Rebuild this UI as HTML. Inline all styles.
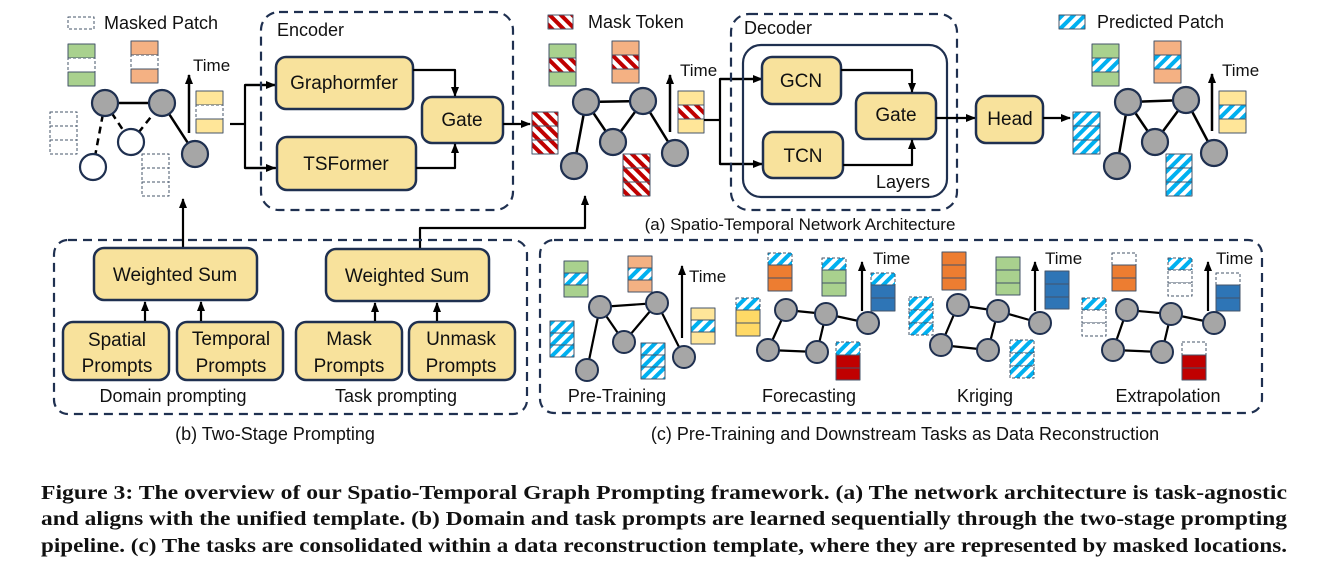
<!DOCTYPE html>
<html><head><meta charset="utf-8"><style>
html,body{margin:0;padding:0;background:#fff;}
svg{display:block;}
.t{font-family:"Liberation Sans",sans-serif;fill:#111;}
.cap{font-family:"Liberation Serif",serif;font-weight:bold;font-size:19.5px;fill:#111;}
</style></head><body>
<svg width="1326" height="577" viewBox="0 0 1326 577" xmlns="http://www.w3.org/2000/svg">
<defs>
<pattern id="rs" patternUnits="userSpaceOnUse" width="8" height="8" patternTransform="rotate(-45)"><rect width="8" height="8" fill="#fff"/><rect width="4" height="8" fill="#c00000"/></pattern>
<pattern id="bs" patternUnits="userSpaceOnUse" width="8" height="8" patternTransform="rotate(45)"><rect width="8" height="8" fill="#fff"/><rect width="4" height="8" fill="#00b0f0"/></pattern>
<marker id="ah" markerWidth="10" markerHeight="10" refX="9" refY="5" orient="auto" markerUnits="userSpaceOnUse"><path d="M0,1 L10,5 L0,9 z" fill="#000"/></marker>
</defs>
<g stroke-linejoin="round">
<rect x="68" y="17" width="26" height="12" fill="#fff" stroke="#44546a" stroke-dasharray="3,2"/>
<text class="t" x="104" y="29" font-size="18">Masked Patch</text>
<rect x="68" y="44" width="27" height="14" fill="#a9d18e" stroke="#44546a"/>
<rect x="68" y="58" width="27" height="14" fill="#fff" stroke="#44546a" stroke-dasharray="3,2"/>
<rect x="68" y="72" width="27" height="14" fill="#a9d18e" stroke="#44546a"/>
<rect x="131" y="41" width="27" height="14" fill="#f4b183" stroke="#44546a"/>
<rect x="131" y="55" width="27" height="14" fill="#fff" stroke="#44546a" stroke-dasharray="3,2"/>
<rect x="131" y="69" width="27" height="14" fill="#f4b183" stroke="#44546a"/>
<g fill="#fff" stroke="#44546a" stroke-dasharray="3,2">
<rect x="50" y="112" width="27" height="14"/><rect x="50" y="126" width="27" height="14"/><rect x="50" y="140" width="27" height="14"/>
<rect x="142" y="154" width="27" height="14"/><rect x="142" y="168" width="27" height="14"/><rect x="142" y="182" width="27" height="14"/>
</g>
<g stroke="#000" stroke-width="2.5">
<line x1="105" y1="103" x2="162" y2="103"/><line x1="162" y1="103" x2="195" y2="154"/>
<line x1="105" y1="103" x2="93" y2="167" stroke-dasharray="7,5"/>
<line x1="105" y1="103" x2="131" y2="142" stroke-dasharray="7,5"/>
<line x1="131" y1="142" x2="162" y2="103" stroke-dasharray="7,5"/>
</g>
<g stroke="#1f3050" stroke-width="2.2">
<circle cx="105" cy="103" r="13" fill="#a6a6a6"/><circle cx="162" cy="103" r="13" fill="#a6a6a6"/>
<circle cx="195" cy="154" r="13" fill="#a6a6a6"/><circle cx="131" cy="142" r="13" fill="#fff"/><circle cx="93" cy="167" r="13" fill="#fff"/>
</g>
<line x1="189" y1="133" x2="189" y2="75" stroke="#000" stroke-width="2.5" marker-end="url(#ah)"/>
<text class="t" x="193" y="71" font-size="17">Time</text>
<rect x="196" y="91" width="27" height="14" fill="#ffe699" stroke="#44546a"/>
<rect x="196" y="105" width="27" height="14" fill="#fff" stroke="#44546a" stroke-dasharray="3,2"/>
<rect x="196" y="119" width="27" height="14" fill="#ffe699" stroke="#44546a"/>
<g stroke="#000" stroke-width="2.2" fill="none">
<line x1="230" y1="124" x2="245" y2="124"/>
<polyline points="276,85 245,85 245,168 276,168"/>
<line x1="245" y1="85" x2="275" y2="85" marker-end="url(#ah)"/>
<line x1="245" y1="168" x2="275" y2="168" marker-end="url(#ah)"/>
</g>
<rect x="261" y="12" width="252" height="198" rx="18" fill="none" stroke="#1f3050" stroke-width="2.2" stroke-dasharray="9,6"/>
<text class="t" x="277" y="36" font-size="18">Encoder</text>
<rect x="276" y="57" width="137" height="52" rx="10" fill="#f8e29c" stroke="#1f3050" stroke-width="2.5"/>
<text class="t" x="344" y="89" font-size="19" text-anchor="middle">Graphormfer</text>
<rect x="277" y="137" width="139" height="53" rx="10" fill="#f8e29c" stroke="#1f3050" stroke-width="2.5"/>
<text class="t" x="346" y="170" font-size="19" text-anchor="middle">TSFormer</text>
<rect x="422" y="97" width="81" height="46" rx="10" fill="#f8e29c" stroke="#1f3050" stroke-width="2.5"/>
<text class="t" x="462" y="126" font-size="19" text-anchor="middle">Gate</text>
<g stroke="#000" stroke-width="2.2" fill="none">
<polyline points="413,70 455,70 455,96" marker-end="url(#ah)"/>
<polyline points="416,168 455,168 455,144" marker-end="url(#ah)"/>
<line x1="503" y1="124" x2="530" y2="124" marker-end="url(#ah)"/>
</g>
<g stroke="#44546a"><rect x="532" y="112" width="26" height="14" fill="url(#rs)"/><rect x="532" y="126" width="26" height="14" fill="url(#rs)"/><rect x="532" y="140" width="26" height="14" fill="url(#rs)"/></g>
<rect x="548" y="15" width="25" height="14" fill="url(#rs)" stroke="#44546a"/>
<text class="t" x="588" y="28" font-size="18">Mask Token</text>
<rect x="549" y="44" width="27" height="14" fill="#a9d18e" stroke="#44546a"/>
<rect x="549" y="58" width="27" height="14" fill="url(#rs)" stroke="#44546a"/>
<rect x="549" y="72" width="27" height="14" fill="#a9d18e" stroke="#44546a"/>
<rect x="612" y="41" width="27" height="14" fill="#f4b183" stroke="#44546a"/>
<rect x="612" y="55" width="27" height="14" fill="url(#rs)" stroke="#44546a"/>
<rect x="612" y="69" width="27" height="14" fill="#f4b183" stroke="#44546a"/>
<g stroke="#44546a"><rect x="623" y="154" width="27" height="14" fill="url(#rs)"/><rect x="623" y="168" width="27" height="14" fill="url(#rs)"/><rect x="623" y="182" width="27" height="14" fill="url(#rs)"/></g>
<g stroke="#000" stroke-width="2.5">
<line x1="586" y1="102" x2="643" y2="101"/><line x1="586" y1="102" x2="613" y2="142"/><line x1="613" y1="142" x2="643" y2="101"/><line x1="586" y1="102" x2="574" y2="166"/><line x1="643" y1="101" x2="675" y2="153"/>
</g>
<g stroke="#1f3050" stroke-width="2.2" fill="#a6a6a6">
<circle cx="586" cy="102" r="13"/><circle cx="643" cy="101" r="13"/><circle cx="613" cy="142" r="13"/><circle cx="574" cy="166" r="13"/><circle cx="675" cy="153" r="13"/>
</g>
<line x1="670" y1="132" x2="670" y2="75" stroke="#000" stroke-width="2.5" marker-end="url(#ah)"/>
<text class="t" x="680" y="76" font-size="17">Time</text>
<rect x="678" y="91" width="26" height="14" fill="#ffe699" stroke="#44546a"/>
<rect x="678" y="105" width="26" height="14" fill="url(#rs)" stroke="#44546a"/>
<rect x="678" y="119" width="26" height="14" fill="#ffe699" stroke="#44546a"/>
<g stroke="#000" stroke-width="2.2" fill="none">
<polyline points="704,120 720,120"/>
<polyline points="762,79 720,79 720,164 762,164"/>
<line x1="720" y1="79" x2="762" y2="79" marker-end="url(#ah)"/>
<line x1="720" y1="164" x2="762" y2="164" marker-end="url(#ah)"/>
</g>
<rect x="731" y="14" width="226" height="196" rx="18" fill="none" stroke="#1f3050" stroke-width="2.2" stroke-dasharray="9,6"/>
<text class="t" x="744" y="34" font-size="18">Decoder</text>
<rect x="743" y="45" width="204" height="152" rx="18" fill="none" stroke="#1f3050" stroke-width="2.2"/>
<text class="t" x="876" y="188" font-size="18">Layers</text>
<rect x="762" y="57" width="79" height="47" rx="10" fill="#f8e29c" stroke="#1f3050" stroke-width="2.5"/>
<text class="t" x="801" y="87" font-size="19" text-anchor="middle">GCN</text>
<rect x="763" y="132" width="80" height="46" rx="10" fill="#f8e29c" stroke="#1f3050" stroke-width="2.5"/>
<text class="t" x="803" y="162" font-size="19" text-anchor="middle">TCN</text>
<rect x="856" y="93" width="80" height="46" rx="10" fill="#f8e29c" stroke="#1f3050" stroke-width="2.5"/>
<text class="t" x="896" y="121" font-size="19" text-anchor="middle">Gate</text>
<g stroke="#000" stroke-width="2.2" fill="none">
<polyline points="841,70 912,70 912,92" marker-end="url(#ah)"/>
<polyline points="843,165 912,165 912,140" marker-end="url(#ah)"/>
<line x1="936" y1="118" x2="975" y2="118" marker-end="url(#ah)"/>
</g>
<rect x="976" y="96" width="67" height="47" rx="10" fill="#f8e29c" stroke="#1f3050" stroke-width="2.5"/>
<text class="t" x="1010" y="125" font-size="19" text-anchor="middle">Head</text>
<line x1="1043" y1="118" x2="1070" y2="118" stroke="#000" stroke-width="2.2" marker-end="url(#ah)"/>
<g stroke="#44546a"><rect x="1073" y="112" width="27" height="14" fill="url(#bs)"/><rect x="1073" y="126" width="27" height="14" fill="url(#bs)"/><rect x="1073" y="140" width="27" height="14" fill="url(#bs)"/></g>
<rect x="1059" y="15" width="26" height="14" fill="url(#bs)" stroke="#44546a"/>
<text class="t" x="1097" y="28" font-size="18">Predicted Patch</text>
<rect x="1092" y="44" width="27" height="14" fill="#a9d18e" stroke="#44546a"/>
<rect x="1092" y="58" width="27" height="14" fill="url(#bs)" stroke="#44546a"/>
<rect x="1092" y="72" width="27" height="14" fill="#a9d18e" stroke="#44546a"/>
<rect x="1154" y="41" width="27" height="14" fill="#f4b183" stroke="#44546a"/>
<rect x="1154" y="55" width="27" height="14" fill="url(#bs)" stroke="#44546a"/>
<rect x="1154" y="69" width="27" height="14" fill="#f4b183" stroke="#44546a"/>
<g stroke="#44546a"><rect x="1166" y="154" width="26" height="14" fill="url(#bs)"/><rect x="1166" y="168" width="26" height="14" fill="url(#bs)"/><rect x="1166" y="182" width="26" height="14" fill="url(#bs)"/></g>
<g stroke="#000" stroke-width="2.5">
<line x1="1128" y1="102" x2="1186" y2="100"/><line x1="1128" y1="102" x2="1155" y2="142"/><line x1="1155" y1="142" x2="1186" y2="100"/><line x1="1128" y1="102" x2="1117" y2="166"/><line x1="1186" y1="100" x2="1214" y2="153"/>
</g>
<g stroke="#1f3050" stroke-width="2.2" fill="#a6a6a6">
<circle cx="1128" cy="102" r="13"/><circle cx="1186" cy="100" r="13"/><circle cx="1155" cy="142" r="13"/><circle cx="1117" cy="166" r="13"/><circle cx="1214" cy="153" r="13"/>
</g>
<line x1="1212" y1="131" x2="1212" y2="74" stroke="#000" stroke-width="2.5" marker-end="url(#ah)"/>
<text class="t" x="1222" y="76" font-size="17">Time</text>
<rect x="1219" y="91" width="27" height="14" fill="#ffe699" stroke="#44546a"/>
<rect x="1219" y="105" width="27" height="14" fill="url(#bs)" stroke="#44546a"/>
<rect x="1219" y="119" width="27" height="14" fill="#ffe699" stroke="#44546a"/>
<text class="t" x="800" y="230" font-size="17" text-anchor="middle">(a) Spatio-Temporal Network Architecture</text>
<line x1="183" y1="248" x2="183" y2="199" stroke="#000" stroke-width="2.2" marker-end="url(#ah)"/>
<polyline points="420,249 420,228 585,228 585,196" fill="none" stroke="#000" stroke-width="2.2" marker-end="url(#ah)"/>

<rect x="54" y="240" width="473" height="174" rx="14" fill="none" stroke="#1f3050" stroke-width="2.2" stroke-dasharray="9,6"/>
<g fill="#f8e29c" stroke="#1f3050" stroke-width="2.5">
<rect x="94" y="248" width="163" height="52" rx="10"/><rect x="326" y="249" width="163" height="52" rx="10"/>
<rect x="63" y="322" width="106" height="58" rx="10"/><rect x="177" y="322" width="106" height="58" rx="10"/>
<rect x="296" y="322" width="106" height="58" rx="10"/><rect x="409" y="322" width="106" height="58" rx="10"/>
</g>
<text class="t" x="175" y="281" font-size="19" text-anchor="middle">Weighted Sum</text>
<text class="t" x="407" y="282" font-size="19" text-anchor="middle">Weighted Sum</text>
<g class="t" font-size="19" text-anchor="middle">
<text x="117" y="346">Spatial</text><text x="117" y="372">Prompts</text>
<text x="231" y="345">Temporal</text><text x="231" y="372">Prompts</text>
<text x="349" y="345">Mask</text><text x="349" y="372">Prompts</text>
<text x="461" y="345">Unmask</text><text x="461" y="372">Prompts</text>
</g>
<g stroke="#000" stroke-width="2.2">
<line x1="145" y1="321" x2="145" y2="302" marker-end="url(#ah)"/><line x1="201" y1="321" x2="201" y2="302" marker-end="url(#ah)"/>
<line x1="375" y1="321" x2="375" y2="303" marker-end="url(#ah)"/><line x1="437" y1="321" x2="437" y2="303" marker-end="url(#ah)"/>
</g>
<text class="t" x="173" y="402" font-size="18" text-anchor="middle">Domain prompting</text>
<text class="t" x="396" y="402" font-size="18" text-anchor="middle">Task prompting</text>
<text class="t" x="275" y="440" font-size="18" text-anchor="middle">(b) Two-Stage Prompting</text>

<rect x="540" y="240" width="722" height="173" rx="14" fill="none" stroke="#1f3050" stroke-width="2.2" stroke-dasharray="9,6"/>
<g stroke="#44546a">
<rect x="564" y="261" width="24" height="12" fill="#a9d18e"/><rect x="564" y="273" width="24" height="12" fill="url(#bs)"/><rect x="564" y="285" width="24" height="12" fill="#a9d18e"/>
<rect x="628" y="256" width="24" height="12" fill="#f4b183"/><rect x="628" y="268" width="24" height="12" fill="url(#bs)"/><rect x="628" y="280" width="24" height="12" fill="#f4b183"/>
<rect x="550" y="321" width="24" height="12" fill="url(#bs)"/><rect x="550" y="333" width="24" height="12" fill="url(#bs)"/><rect x="550" y="345" width="24" height="12" fill="url(#bs)"/>
<rect x="641" y="343" width="24" height="12" fill="url(#bs)"/><rect x="641" y="355" width="24" height="12" fill="url(#bs)"/><rect x="641" y="367" width="24" height="12" fill="url(#bs)"/>
<rect x="691" y="308" width="24" height="12" fill="#ffe699"/><rect x="691" y="320" width="24" height="12" fill="url(#bs)"/><rect x="691" y="332" width="24" height="12" fill="#ffe699"/>
</g>
<g stroke="#000" stroke-width="2.2">
<line x1="600" y1="307" x2="657" y2="303"/><line x1="600" y1="307" x2="624" y2="342"/><line x1="624" y1="342" x2="657" y2="303"/><line x1="600" y1="307" x2="587" y2="370"/><line x1="657" y1="303" x2="684" y2="357"/>
</g>
<g stroke="#1f3050" stroke-width="2" fill="#a6a6a6">
<circle cx="600" cy="307" r="11"/><circle cx="657" cy="303" r="11"/><circle cx="624" cy="342" r="11"/><circle cx="587" cy="370" r="11"/><circle cx="684" cy="357" r="11"/>
</g>
<line x1="682" y1="338" x2="682" y2="266" stroke="#000" stroke-width="2.2" marker-end="url(#ah)"/>
<text class="t" x="689" y="282" font-size="17">Time</text>
<g stroke="#44546a">
<rect x="768" y="253" width="24" height="12" fill="url(#bs)" stroke-dasharray="3,2"/><rect x="768" y="265" width="24" height="13" fill="#ed7d31"/><rect x="768" y="278" width="24" height="13" fill="#ed7d31"/>
<rect x="822" y="258" width="24" height="12" fill="url(#bs)" stroke-dasharray="3,2"/><rect x="822" y="270" width="24" height="13" fill="#a9d18e"/><rect x="822" y="283" width="24" height="13" fill="#a9d18e"/>
<rect x="871" y="273" width="24" height="12" fill="url(#bs)" stroke-dasharray="3,2"/><rect x="871" y="285" width="24" height="13" fill="#2e75b6"/><rect x="871" y="298" width="24" height="13" fill="#2e75b6"/>
<rect x="736" y="298" width="24" height="12" fill="url(#bs)" stroke-dasharray="3,2"/><rect x="736" y="310" width="24" height="13" fill="#ffd966"/><rect x="736" y="323" width="24" height="13" fill="#ffd966"/>
<rect x="836" y="342" width="24" height="13" fill="url(#bs)" stroke-dasharray="3,2"/><rect x="836" y="355" width="24" height="13" fill="#c00000"/><rect x="836" y="368" width="24" height="12" fill="#c00000"/>
</g>
<g stroke="#000" stroke-width="2.2">
<line x1="786" y1="310" x2="826" y2="314"/><line x1="826" y1="314" x2="868" y2="323"/><line x1="786" y1="310" x2="768" y2="350"/><line x1="768" y1="350" x2="817" y2="352"/><line x1="817" y1="352" x2="826" y2="314"/>
</g>
<g stroke="#1f3050" stroke-width="2" fill="#a6a6a6">
<circle cx="786" cy="310" r="11"/><circle cx="826" cy="314" r="11"/><circle cx="868" cy="323" r="11"/><circle cx="768" cy="350" r="11"/><circle cx="817" cy="352" r="11"/>
</g>
<line x1="862" y1="311" x2="862" y2="262" stroke="#000" stroke-width="2.2" marker-end="url(#ah)"/>
<text class="t" x="873" y="264" font-size="17">Time</text>
<g stroke="#44546a">
<rect x="942" y="252" width="24" height="13" fill="#ed7d31"/><rect x="942" y="265" width="24" height="13" fill="#ed7d31"/><rect x="942" y="278" width="24" height="12" fill="#ed7d31"/>
<rect x="996" y="257" width="24" height="13" fill="#a9d18e"/><rect x="996" y="270" width="24" height="13" fill="#a9d18e"/><rect x="996" y="283" width="24" height="12" fill="#a9d18e"/>
<rect x="1045" y="271" width="24" height="13" fill="#2e75b6"/><rect x="1045" y="284" width="24" height="13" fill="#2e75b6"/><rect x="1045" y="297" width="24" height="12" fill="#2e75b6"/>
<g stroke-dasharray="3,2">
<rect x="909" y="297" width="24" height="13" fill="url(#bs)"/><rect x="909" y="310" width="24" height="13" fill="url(#bs)"/><rect x="909" y="323" width="24" height="12" fill="url(#bs)"/>
<rect x="1010" y="340" width="24" height="13" fill="url(#bs)"/><rect x="1010" y="353" width="24" height="13" fill="url(#bs)"/><rect x="1010" y="366" width="24" height="12" fill="url(#bs)"/>
</g>
</g>
<g stroke="#000" stroke-width="2.2">
<line x1="958" y1="305" x2="998" y2="311"/><line x1="998" y1="311" x2="1040" y2="323"/><line x1="958" y1="305" x2="941" y2="345"/><line x1="941" y1="345" x2="988" y2="350"/><line x1="988" y1="350" x2="998" y2="311"/>
</g>
<g stroke="#1f3050" stroke-width="2" fill="#a6a6a6">
<circle cx="958" cy="305" r="11"/><circle cx="998" cy="311" r="11"/><circle cx="1040" cy="323" r="11"/><circle cx="941" cy="345" r="11"/><circle cx="988" cy="350" r="11"/>
</g>
<line x1="1035" y1="311" x2="1035" y2="262" stroke="#000" stroke-width="2.2" marker-end="url(#ah)"/>
<text class="t" x="1045" y="264" font-size="17">Time</text>
<g stroke="#44546a">
<rect x="1112" y="253" width="24" height="12" fill="#fff" stroke-dasharray="3,2"/><rect x="1112" y="265" width="24" height="13" fill="#ed7d31"/><rect x="1112" y="278" width="24" height="13" fill="#ed7d31"/>
<rect x="1168" y="258" width="24" height="12" fill="url(#bs)" stroke-dasharray="3,2"/><rect x="1168" y="270" width="24" height="13" fill="#fff" stroke-dasharray="3,2"/><rect x="1168" y="283" width="24" height="13" fill="#fff" stroke-dasharray="3,2"/>
<rect x="1216" y="273" width="24" height="12" fill="#fff" stroke-dasharray="3,2"/><rect x="1216" y="285" width="24" height="13" fill="#2e75b6"/><rect x="1216" y="298" width="24" height="13" fill="#2e75b6"/>
<rect x="1082" y="298" width="24" height="12" fill="url(#bs)" stroke-dasharray="3,2"/><rect x="1082" y="310" width="24" height="13" fill="#fff" stroke-dasharray="3,2"/><rect x="1082" y="323" width="24" height="13" fill="#fff" stroke-dasharray="3,2"/>
<rect x="1182" y="342" width="24" height="13" fill="#fff" stroke-dasharray="3,2"/><rect x="1182" y="355" width="24" height="13" fill="#c00000"/><rect x="1182" y="368" width="24" height="12" fill="#c00000"/>
</g>
<g stroke="#000" stroke-width="2.2">
<line x1="1127" y1="310" x2="1171" y2="314"/><line x1="1171" y1="314" x2="1214" y2="323"/><line x1="1127" y1="310" x2="1113" y2="350"/><line x1="1113" y1="350" x2="1162" y2="352"/><line x1="1162" y1="352" x2="1171" y2="314"/>
</g>
<g stroke="#1f3050" stroke-width="2" fill="#a6a6a6">
<circle cx="1127" cy="310" r="11"/><circle cx="1171" cy="314" r="11"/><circle cx="1214" cy="323" r="11"/><circle cx="1113" cy="350" r="11"/><circle cx="1162" cy="352" r="11"/>
</g>
<line x1="1208" y1="311" x2="1208" y2="262" stroke="#000" stroke-width="2.2" marker-end="url(#ah)"/>
<text class="t" x="1216" y="264" font-size="17">Time</text>
<g class="t" font-size="18" text-anchor="middle">
<text x="617" y="402">Pre-Training</text><text x="809" y="402">Forecasting</text><text x="985" y="402">Kriging</text><text x="1168" y="402">Extrapolation</text>
</g>
<text class="t" x="905" y="440" font-size="18" text-anchor="middle">(c) Pre-Training and Downstream Tasks as Data Reconstruction</text>
</g>
<text class="cap" x="41" y="499" textLength="1246" lengthAdjust="spacingAndGlyphs">Figure 3: The overview of our Spatio-Temporal Graph Prompting framework. (a) The network architecture is task-agnostic</text>
<text class="cap" x="41" y="525" textLength="1246" lengthAdjust="spacingAndGlyphs">and aligns with the unified template. (b) Domain and task prompts are learned sequentially through the two-stage prompting</text>
<text class="cap" x="41" y="552" textLength="1246" lengthAdjust="spacingAndGlyphs">pipeline. (c) The tasks are consolidated within a data reconstruction template, where they are represented by masked locations.</text>
</svg>
</body></html>
